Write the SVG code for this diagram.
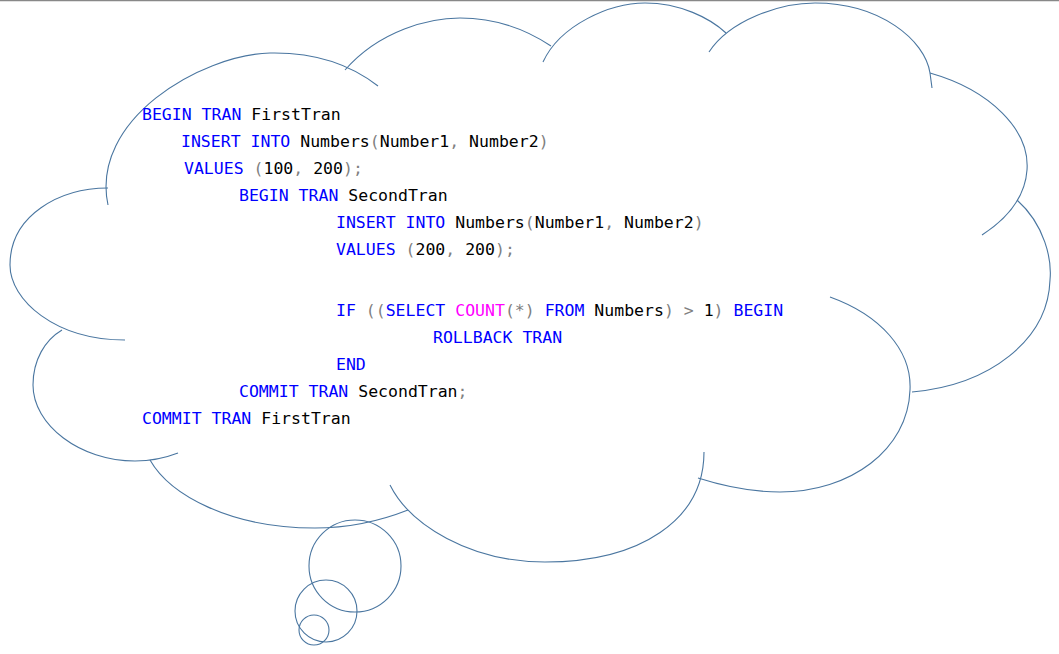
<svg xmlns="http://www.w3.org/2000/svg" width="1059" height="654" viewBox="0 0 1059 654">
<style>
.c{fill:none;stroke:#4a76a0;stroke-width:1.1}
text{font-family:"DejaVu Sans Mono","Liberation Mono",monospace;font-size:16.5px;fill:#000}
.k{fill:#0000ff}.g{fill:#808080}.m{fill:#ff00ff}
</style>
<rect width="1059" height="654" fill="#fff"/>
<line x1="0" y1="0.5" x2="1059" y2="0.5" stroke="#888" stroke-width="1.5"/>
<g id="cloud">
<path class="c" d="M108,205 C90,120 200,55 270,53 C320,52 355,68 378,86"/>
<path class="c" d="M345,70 C380,30 430,18 460,18 C500,18 530,32 551,46"/>
<path class="c" d="M543,62 C560,25 610,3 645,3 C680,3 710,18 726,33"/>
<path class="c" d="M709,52 C730,20 780,3 815,3 C880,3 925,40 930,73 L932,88"/>
<path class="c" d="M930,73 C990,90 1030,130 1027,170 C1025,200 1005,220 982,235"/>
<path class="c" d="M1017,200 C1045,225 1052,260 1050,280 C1048,340 990,385 912,392"/>
<path class="c" d="M830,297 C880,315 912,350 910,390 C908,450 850,492 780,492 C750,492 720,485 698,478"/>
<path class="c" d="M704,452 C704,520 640,562 545,562 C470,562 410,525 390,485"/>
<path class="c" d="M408,510 C370,525 340,528 315,528 C230,528 170,495 150,460"/>
<path class="c" d="M178,453 C160,460 145,461 135,461 C80,461 33,425 33,385 C33,360 45,340 62,330"/>
<path class="c" d="M125,340 C55,340 10,300 10,265 C10,215 60,188 108,188"/>
</g>
<g id="bubbles">
<circle class="c" cx="355" cy="566" r="46"/>
<circle class="c" cx="326" cy="611" r="31"/>
<circle class="c" cx="314" cy="630" r="15"/>
</g>
<g id="code" xml:space="preserve">
<text x="142" y="120"><tspan class="k">BEGIN TRAN</tspan> FirstTran</text>
<text x="181" y="147"><tspan class="k">INSERT INTO</tspan> Numbers<tspan class="g">(</tspan>Number1<tspan class="g">,</tspan> Number2<tspan class="g">)</tspan></text>
<text x="184" y="174"><tspan class="k">VALUES</tspan> <tspan class="g">(</tspan>100<tspan class="g">,</tspan> 200<tspan class="g">);</tspan></text>
<text x="239" y="201"><tspan class="k">BEGIN TRAN</tspan> SecondTran</text>
<text x="336" y="228"><tspan class="k">INSERT INTO</tspan> Numbers<tspan class="g">(</tspan>Number1<tspan class="g">,</tspan> Number2<tspan class="g">)</tspan></text>
<text x="336" y="255"><tspan class="k">VALUES</tspan> <tspan class="g">(</tspan>200<tspan class="g">,</tspan> 200<tspan class="g">);</tspan></text>
<text x="336" y="316"><tspan class="k">IF</tspan> <tspan class="g">((</tspan><tspan class="k">SELECT</tspan> <tspan class="m">COUNT</tspan><tspan class="g">(*)</tspan> <tspan class="k">FROM</tspan> Numbers<tspan class="g">)</tspan> <tspan class="g">&gt;</tspan> 1<tspan class="g">)</tspan> <tspan class="k">BEGIN</tspan></text>
<text x="433" y="343" class="k">ROLLBACK TRAN</text>
<text x="336" y="370" class="k">END</text>
<text x="239" y="397"><tspan class="k">COMMIT TRAN</tspan> SecondTran<tspan class="g">;</tspan></text>
<text x="142" y="424"><tspan class="k">COMMIT TRAN</tspan> FirstTran</text>
</g>
</svg>
